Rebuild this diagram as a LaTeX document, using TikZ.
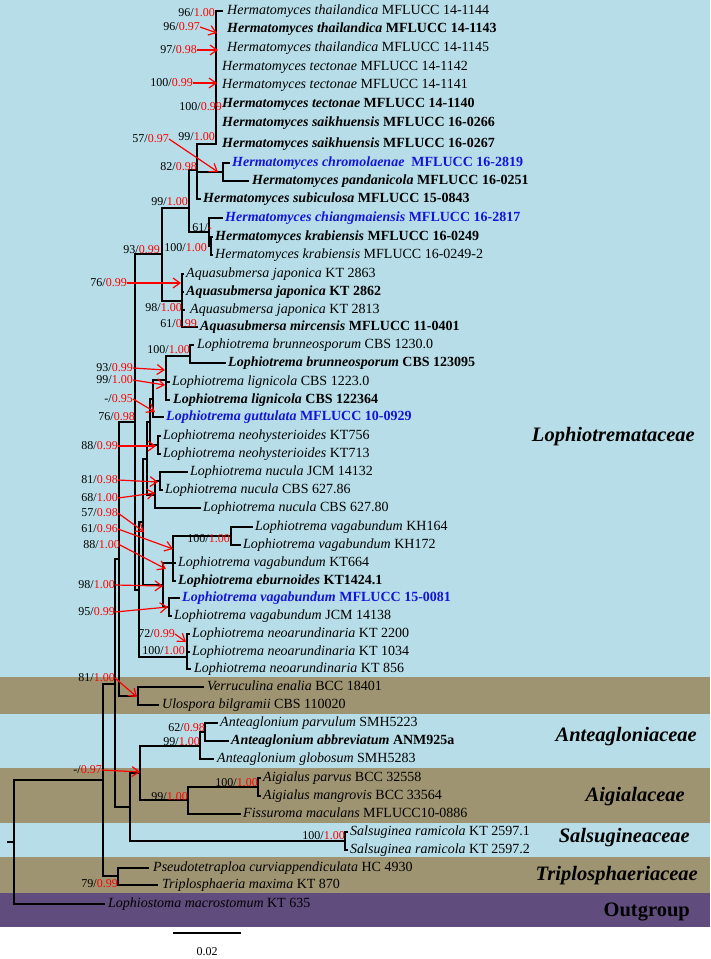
\documentclass[tikz,border=0pt]{standalone}
\usepackage{fontspec}
\setmainfont{Liberation Serif}
\usetikzlibrary{arrows.meta}
\definecolor{bandblue}{RGB}{183,222,232}
\definecolor{bandbrown}{RGB}{158,148,114}
\definecolor{bandpurple}{RGB}{96,76,125}
\definecolor{taxblue}{RGB}{20,20,215}
\definecolor{supred}{RGB}{255,0,0}
\newcommand{\sv}[2]{#1/\textcolor{supred}{#2}}
\newcommand{\nt}[2]{\textit{#1} #2}
\newcommand{\bt}[2]{\textbf{\textit{#1} #2}}
\newcommand{\blt}[2]{\textcolor{taxblue}{\textbf{\textit{#1} #2}}}
\tikzset{
 br/.style={line width=1.3pt, black, line cap=rect},
 thickbr/.style={line width=2.2pt, black, line cap=rect},
 tax/.style={anchor=west, inner sep=0pt, font=\fontsize{14}{16}\selectfont, text height=9.5pt, text depth=2.5pt},
 sup/.style={anchor=east, inner sep=0pt, font=\fontsize{12}{14}\selectfont, text height=8pt, text depth=2pt},
 arr/.style={draw=supred, line width=1.2pt, -{Straight Barb[length=7pt,width=10pt]}},
 fam/.style={anchor=east, inner sep=0pt, font=\fontsize{20.5}{24}\selectfont\bfseries\itshape},
 famup/.style={anchor=east, inner sep=0pt, font=\fontsize{20.5}{24}\selectfont\bfseries},
}
\begin{document}
\begin{tikzpicture}[x=1pt,y=-1pt]
\useasboundingbox (0,0) rectangle (710,959);
\fill[white] (0,0) rectangle (710,959);
\fill[bandblue] (0,0) rectangle (710,677);
\fill[bandbrown] (0,677) rectangle (710,714);
\fill[bandblue] (0,714) rectangle (710,768);
\fill[bandbrown] (0,768) rectangle (710,823);
\fill[bandblue] (0,823) rectangle (710,857);
\fill[bandbrown] (0,857) rectangle (710,893);
\fill[bandpurple] (0,893) rectangle (710,927);

% internal nodes
\coordinate (root) at (14,842);
\coordinate (rootstub) at (8,842);
\coordinate (A) at (103,780);
\coordinate (B) at (115,684);
\coordinate (T) at (118,876);
\coordinate (W) at (119,559);
\coordinate (Y) at (130,807);
\coordinate (Z) at (140,773);
\coordinate (Sa) at (345,841);
\coordinate (An1) at (200,746);
\coordinate (An2) at (205,732);
\coordinate (Ai1) at (188,800);
\coordinate (Ai2) at (258,787);
\coordinate (V) at (138,696);
\coordinate (N135) at (135,422);
\coordinate (X138) at (139,590);
\coordinate (NA) at (187,657);
\coordinate (X143) at (143,522);
\coordinate (V2) at (163,585);
\coordinate (V1) at (173,563);
\coordinate (V3) at (169,607);
\coordinate (KH) at (231,536);
\coordinate (X147) at (147,459);
\coordinate (Nu2) at (155,495);
\coordinate (Nu1) at (160,481);
\coordinate (X150) at (150,422);
\coordinate (NH) at (158,445);
\coordinate (G) at (153,399);
\coordinate (L1) at (166,380);
\coordinate (BR) at (190,356);
\coordinate (S) at (162,254);
\coordinate (AQ) at (182,301);
\coordinate (R) at (189,208);
\coordinate (C) at (209,232);
\coordinate (K) at (211,246);
\coordinate (Q) at (197,170);
\coordinate (P) at (223,172);
\coordinate (H1) at (216,144);

% tip ends
\coordinate (t1) at (222,11);
\coordinate (t2) at (216,29);
\coordinate (t3) at (216,48);
\coordinate (t4) at (216,67);
\coordinate (t5) at (216,85);
\coordinate (t6) at (216,104);
\coordinate (t7) at (216,123);
\coordinate (t8) at (216,144);
\coordinate (t9) at (229,163);
\coordinate (t10) at (248,181);
\coordinate (t11) at (200,199);
\coordinate (t12) at (222,218);
\coordinate (t13) at (212,237);
\coordinate (t14) at (212,255);
\coordinate (t15) at (183,274);
\coordinate (t16) at (183,292);
\coordinate (t17) at (184,310);
\coordinate (t18) at (197,327);
\coordinate (t19) at (193,345);
\coordinate (t20) at (225,363);
\coordinate (t21) at (169,382);
\coordinate (t22) at (169,400);
\coordinate (t23) at (163,417);
\coordinate (t24) at (160,436);
\coordinate (t25) at (160,454);
\coordinate (t26) at (187,472);
\coordinate (t27) at (162,490);
\coordinate (t28) at (200,508);
\coordinate (t29) at (252,527);
\coordinate (t30) at (240,545);
\coordinate (t31) at (175,563);
\coordinate (t32) at (175,581);
\coordinate (t33) at (179,598);
\coordinate (t34) at (171,616);
\coordinate (t35) at (189,634);
\coordinate (t36) at (189,652);
\coordinate (t37) at (190,669);
\coordinate (t38) at (203,687);
\coordinate (t39) at (158,705);
\coordinate (t40) at (217,723);
\coordinate (t41) at (228,741);
\coordinate (t42) at (213,759);
\coordinate (t43) at (260,778);
\coordinate (t44) at (260,796);
\coordinate (t45) at (240,814);
\coordinate (t46) at (347,832);
\coordinate (t47) at (347,850);
\coordinate (t48) at (148,868);
\coordinate (t49) at (157,885);
\coordinate (t50) at (104,904);

% branches
\draw[br] (rootstub) -- (root);
\draw[br] (root) |- (A) (root) |- (t50)
  (A) |- (B) (A) |- (T)
  (T) |- (t48) (T) |- (t49)
  (B) |- (W) (B) |- (Y)
  (Y) |- (Z) (Y) |- (Sa)
  (Sa) |- (t46) (Sa) |- (t47)
  (Z) |- (An1) (Z) |- (Ai1)
  (An1) |- (An2) (An1) |- (t42)
  (An2) |- (t40) (An2) |- (t41)
  (Ai1) |- (Ai2) (Ai1) |- (t45)
  (Ai2) |- (t43) (Ai2) |- (t44)
  (W) |- (N135) (W) |- (V)
  (V) |- (t38) (V) |- (t39)
  (N135) |- (S) (N135) |- (X138)
  (X138) |- (X143) (X138) |- (NA)
  (NA) |- (t35) (NA) |- (t36) (NA) |- (t37)
  (X143) |- (X147) (X143) |- (V2)
  (V2) |- (V1) (V2) |- (V3)
  (V1) |- (KH) (V1) |- (t31) (V1) |- (t32)
  (KH) |- (t29) (KH) |- (t30)
  (V3) |- (t33) (V3) |- (t34)
  (X147) |- (X150) (X147) |- (Nu2)
  (Nu2) |- (Nu1) (Nu2) |- (t28)
  (Nu1) |- (t26) (Nu1) |- (t27)
  (X150) |- (G) (X150) |- (NH)
  (NH) |- (t24) (NH) |- (t25)
  (G) |- (L1) (G) |- (t23)
  (L1) |- (BR) (L1) |- (t21) (L1) |- (t22)
  (BR) |- (t19) (BR) |- (t20)
  (S) |- (R) (S) |- (AQ)
  (AQ) |- (t15) (AQ) |- (t16) (AQ) |- (t17) (AQ) |- (t18)
  (R) |- (Q) (R) |- (C)
  (C) |- (t12) (C) |- (K)
  (K) |- (t13) (K) |- (t14)
  (Q) |- (H1) (Q) |- (P) (Q) |- (t11)
  (P) |- (t9) (P) |- (t10);
\draw[thickbr] (H1) |- (t1) (H1) |- (t2) (H1) |- (t3) (H1) |- (t4)
  (H1) |- (t5) (H1) |- (t6) (H1) |- (t7) (H1) |- (t8);

% taxa
\node[tax] (n1) at (227,11) {\nt{Hermatomyces thailandica}{MFLUCC 14-1144}};
\node[tax] (n2) at (227,29) {\bt{Hermatomyces thailandica}{MFLUCC 14-1143}};
\node[tax] (n3) at (227,48) {\nt{Hermatomyces thailandica}{MFLUCC 14-1145}};
\node[tax] (n4) at (222,67) {\nt{Hermatomyces tectonae}{MFLUCC 14-1142}};
\node[tax] (n5) at (222,85) {\nt{Hermatomyces tectonae}{MFLUCC 14-1141}};
\node[tax] (n6) at (222,104) {\bt{Hermatomyces tectonae}{MFLUCC 14-1140}};
\node[tax] (n7) at (222,123) {\bt{Hermatomyces saikhuensis}{MFLUCC 16-0266}};
\node[tax] (n8) at (222,144) {\bt{Hermatomyces saikhuensis}{MFLUCC 16-0267}};
\node[tax] (n9) at (232,163) {\blt{Hermatomyces chromolaenae}{\ MFLUCC 16-2819}};
\node[tax] (n10) at (252,181) {\bt{Hermatomyces pandanicola}{MFLUCC 16-0251}};
\node[tax] (n11) at (203,199) {\bt{Hermatomyces subiculosa}{MFLUCC 15-0843}};
\node[tax] (n12) at (225,218) {\blt{Hermatomyces chiangmaiensis}{MFLUCC 16-2817}};
\node[tax] (n13) at (215,237) {\bt{Hermatomyces krabiensis}{MFLUCC 16-0249}};
\node[tax] (n14) at (215,255) {\nt{Hermatomyces krabiensis}{MFLUCC 16-0249-2}};
\node[tax] (n15) at (186,274) {\nt{Aquasubmersa japonica}{KT 2863}};
\node[tax] (n16) at (186,292) {\bt{Aquasubmersa japonica}{KT 2862}};
\node[tax] (n17) at (190,310) {\nt{Aquasubmersa japonica}{KT 2813}};
\node[tax] (n18) at (200,327) {\bt{Aquasubmersa mircensis}{MFLUCC 11-0401}};
\node[tax] (n19) at (197,345) {\nt{Lophiotrema brunneosporum}{CBS 1230.0}};
\node[tax] (n20) at (228,363) {\bt{Lophiotrema brunneosporum}{CBS 123095}};
\node[tax] (n21) at (172,382) {\nt{Lophiotrema lignicola}{CBS 1223.0}};
\node[tax] (n22) at (173,400) {\bt{Lophiotrema lignicola}{CBS 122364}};
\node[tax] (n23) at (166,417) {\blt{Lophiotrema guttulata}{MFLUCC 10-0929}};
\node[tax] (n24) at (163,436) {\nt{Lophiotrema neohysterioides}{KT756}};
\node[tax] (n25) at (163,454) {\nt{Lophiotrema neohysterioides}{KT713}};
\node[tax] (n26) at (190,472) {\nt{Lophiotrema nucula}{JCM 14132}};
\node[tax] (n27) at (165,490) {\nt{Lophiotrema nucula}{CBS 627.86}};
\node[tax] (n28) at (203,508) {\nt{Lophiotrema nucula}{CBS 627.80}};
\node[tax] (n29) at (255,527) {\nt{Lophiotrema vagabundum}{KH164}};
\node[tax] (n30) at (243,545) {\nt{Lophiotrema vagabundum}{KH172}};
\node[tax] (n31) at (178,563) {\nt{Lophiotrema vagabundum}{KT664}};
\node[tax] (n32) at (178,581) {\bt{Lophiotrema eburnoides}{KT1424.1}};
\node[tax] (n33) at (182,598) {\blt{Lophiotrema vagabundum}{MFLUCC 15-0081}};
\node[tax] (n34) at (174,616) {\nt{Lophiotrema vagabundum}{JCM 14138}};
\node[tax] (n35) at (192,634) {\nt{Lophiotrema neoarundinaria}{KT 2200}};
\node[tax] (n36) at (192,652) {\nt{Lophiotrema neoarundinaria}{KT 1034}};
\node[tax] (n37) at (194,669) {\nt{Lophiotrema neoarundinaria}{KT 856}};
\node[tax] (n38) at (207,687) {\nt{Verruculina enalia}{BCC 18401}};
\node[tax] (n39) at (162,705) {\nt{Ulospora bilgramii}{CBS 110020}};
\node[tax] (n40) at (220,723) {\nt{Anteaglonium parvulum}{SMH5223}};
\node[tax] (n41) at (231,741) {\bt{Anteaglonium abbreviatum}{ANM925a}};
\node[tax] (n42) at (217,759) {\nt{Anteaglonium globosum}{SMH5283}};
\node[tax] (n43) at (263,778) {\nt{Aigialus parvus}{BCC 32558}};
\node[tax] (n44) at (263,796) {\nt{Aigialus mangrovis}{BCC 33564}};
\node[tax] (n45) at (243,814) {\nt{Fissuroma maculans}{MFLUCC10-0886}};
\node[tax] (n46) at (350,832) {\nt{Salsuginea ramicola}{KT 2597.1}};
\node[tax] (n47) at (350,850) {\nt{Salsuginea ramicola}{KT 2597.2}};
\node[tax] (n48) at (153,868) {\nt{Pseudotetraploa curviappendiculata}{HC 4930}};
\node[tax] (n49) at (162,885) {\nt{Triplosphaeria maxima}{KT 870}};
\node[tax] (n50) at (108,904) {\nt{Lophiostoma macrostomum}{KT 635}};

% support values
\node[sup] (s1) at (215,13) {\sv{96}{1.00}};
\node[sup] (s2) at (200,27) {\sv{96}{0.97}};
\node[sup] (s3) at (197,50) {\sv{97}{0.98}};
\node[sup] (s4) at (193,83) {\sv{100}{0.99}};
\node[sup] (s5) at (222,107) {\sv{100}{0.99}};
\node[sup] (s6) at (215,137) {\sv{99}{1.00}};
\node[sup] (s7) at (169,139) {\sv{57}{0.97}};
\node[sup] (s8) at (197,167) {\sv{82}{0.98}};
\node[sup] (s9) at (188,202) {\sv{99}{1.00}};
\node[sup] (s10) at (212,228) {\sv{61}{-}};
\node[sup] (s11) at (207,248) {\sv{100}{1.00}};
\node[sup] (s12) at (160,250) {\sv{93}{0.99}};
\node[sup] (s13) at (127,283) {\sv{76}{0.99}};
\node[sup] (s14) at (182,308) {\sv{98}{1.00}};
\node[sup] (s15) at (197,324) {\sv{61}{0.99}};
\node[sup] (s16) at (190,350) {\sv{100}{1.00}};
\node[sup] (s17) at (133,368) {\sv{93}{0.99}};
\node[sup] (s18) at (133,380) {\sv{99}{1.00}};
\node[sup] (s19) at (133,399) {\sv{-}{0.95}};
\node[sup] (s20) at (135,417) {\sv{76}{0.98}};
\node[sup] (s21) at (118,446) {\sv{88}{0.99}};
\node[sup] (s22) at (118,480) {\sv{81}{0.98}};
\node[sup] (s23) at (118,498) {\sv{68}{1.00}};
\node[sup] (s24) at (118,513) {\sv{57}{0.98}};
\node[sup] (s25) at (118,529) {\sv{61}{0.96}};
\node[sup] (s26) at (120,545) {\sv{88}{1.00}};
\node[sup] (s27) at (230,539) {\sv{100}{1.00}};
\node[sup] (s28) at (115,585) {\sv{98}{1.00}};
\node[sup] (s29) at (115,612) {\sv{95}{0.99}};
\node[sup] (s30) at (175,634) {\sv{72}{0.99}};
\node[sup] (s31) at (185,651) {\sv{100}{1.00}};
\node[sup] (s32) at (115,678) {\sv{81}{1.00}};
\node[sup] (s33) at (205,728) {\sv{62}{0.98}};
\node[sup] (s34) at (200,742) {\sv{99}{1.00}};
\node[sup] (s35) at (102,770) {\sv{-}{0.97}};
\node[sup] (s36) at (258,783) {\sv{100}{1.00}};
\node[sup] (s37) at (188,797) {\sv{99}{1.00}};
\node[sup] (s38) at (345,836) {\sv{100}{1.00}};
\node[sup] (s39) at (118,884) {\sv{79}{0.99}};

% arrow targets
\coordinate (a2) at (217,33);
\coordinate (a3) at (218,50);
\coordinate (a4) at (217,83);
\coordinate (a7) at (218,172);
\coordinate (a13) at (181,283);
\coordinate (a17) at (165,370);
\coordinate (a18) at (165,385);
\coordinate (a19) at (155,412);
\coordinate (a21) at (156,446);
\coordinate (a22) at (158,482);
\coordinate (a23) at (155,493);
\coordinate (a24) at (144,532);
\coordinate (a25) at (173,549);
\coordinate (a26) at (166,569);
\coordinate (a28) at (163,586);
\coordinate (a29) at (168,607);
\coordinate (a30) at (186,642);
\coordinate (a32) at (137,697);
\coordinate (a35) at (140,772);

\draw[arr] (s2.east) -- (a2);
\draw[arr] (s3.east) -- (a3);
\draw[arr] (s4.east) -- (a4);
\draw[arr] (s7.east) -- (a7);
\draw[arr] (s13.east) -- (a13);
\draw[arr] (s17.east) -- (a17);
\draw[arr] (s18.east) -- (a18);
\draw[arr] (s19.east) -- (a19);
\draw[arr] (s21.east) -- (a21);
\draw[arr] (s22.east) -- (a22);
\draw[arr] (s23.east) -- (a23);
\draw[arr] (s24.east) -- (a24);
\draw[arr] (s25.east) -- (a25);
\draw[arr] (s26.east) -- (a26);
\draw[arr] (s28.east) -- (a28);
\draw[arr] (s29.east) -- (a29);
\draw[arr] (s30.east) -- (a30);
\draw[arr] (s32.east) -- (a32);
\draw[arr] (s35.east) -- (a35);

% family labels
\node[fam] (f1) at (695,437) {Lophiotremataceae};
\node[fam] (f2) at (697,737) {Anteagloniaceae};
\node[fam] (f3) at (685,797) {Aigialaceae};
\node[fam] (f4) at (690,838) {Salsugineaceae};
\node[fam] (f5) at (698,876) {Triplosphaeriaceae};
\node[famup] (f6) at (690,912) {Outgroup};

% scale bar
\coordinate (sbL) at (173,933);
\coordinate (sbR) at (241,933);
\draw[line width=1.3pt] (sbL) -- (sbR);
\node[inner sep=0pt, font=\fontsize{12}{14}\selectfont] (sbt) at (207,952) {0.02};
\end{tikzpicture}
\end{document}
